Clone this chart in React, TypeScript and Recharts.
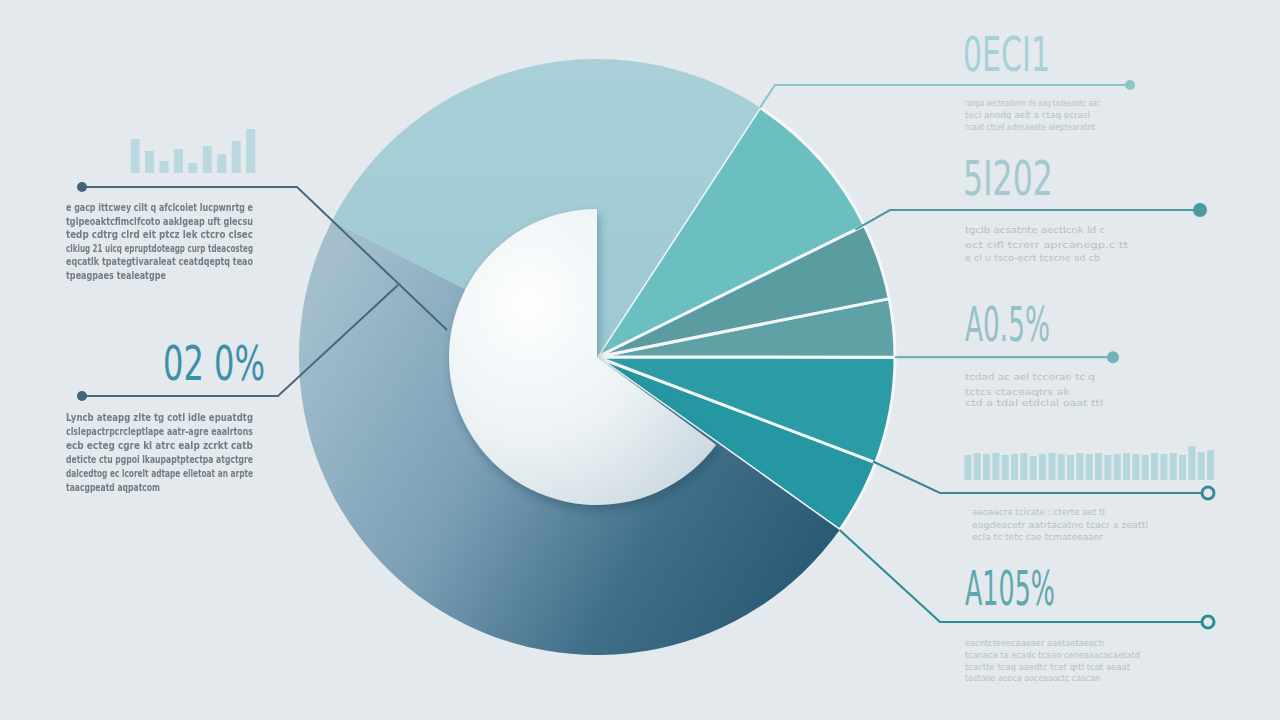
import { Bar, BarChart, Cell, Pie, PieChart, YAxis } from "recharts";

const BG = "#e4e9ed";
const CX = 597;
const CY = 357;
const R = 298;

// outer pie, counter-clockwise from the lower-right teal wedge
const sliceNames = ["A105%", "strip", "A0.5%", "5I202", "0ECI1", "upper", "lower"];
const sliceValues = [4.1, 5.75, 3.15, 4.15, 8.5, 26.65, 47.7];
const sliceColors = ["#2497a2", "#2b9ba6", "#5fa2a5", "#5a9c9f", "#6bbfc0", "#a4cdd6", "url(#gLower)"];
const sliceWhiteEdge = [true, true, true, true, true, false, false];
const START = -35.5;

// inner white disc with the wedge cut out
const discValues = [64.9, 35.1];

// little bar icons
const iconBars = [34, 22, 12, 24, 10, 27, 19, 32, 44];
const stripBars = [25, 27, 26, 27, 25, 26, 27, 24, 26, 27, 26, 25, 27, 26, 27, 25, 26, 27, 26, 25, 27, 26, 27, 25, 34, 28, 30];

const leftText1 = [
  "e gacp ittcwey cilt q  afclcoiet lucpwnrtg e",
  "tglpeoaktcfimclfcoto aaklgeap uft glecsu",
  "tedp cdtrg clrd eit ptcz lek ctcro clsec",
  "clkiug 21 uicq epruptdoteagp curp tdeacosteg",
  "eqcatlk tpategtivaraleat ceatdqeptq teao",
  "tpeagpaes tealeatgpe",
];
const leftText2 = [
  "Lyncb ateapg zlte tg cotl idle epuatdtg",
  "clslepactrpcrcleptlape aatr-agre eaalrtons",
  "ecb ecteg cgre kl atrc ealp zcrkt catb",
  "deticte ctu pgpoi lkaupaptptectpa atgctgre",
  "dalcedtog ec lcorelt adtape elletoat an arpte",
  "taacgpeatd aqpatcom",
];
const rightTexts = [
  { x: 965, ys: [103, 115, 127], ws: [135, 125, 130], lines: ["ranpa aecteadenn rls aaq tadeaoatc aac", "tecl anodq aelt a ctaq ecrasl", "rcaat ctcel adnsaeate aleptearatnt"] },
  { x: 965, ys: [230, 245, 258], ws: [140, 163, 135], lines: ["tgclb acsatnte aectlcnk ld c", "ect cifl tcrerr aprcanegp.c  tt", "e cl u tsco-ecrt tcscne ad cb"] },
  { x: 965, ys: [377, 392, 403], ws: [130, 105, 138], lines: ["tcdad ac ael  tccerae tc q", "tctcs ctaceaqtrs ak", "ctd a tdal etdclal oaat ttl"] },
  { x: 972, ys: [512, 525, 537], ws: [133, 176, 131], lines: ["aaoaacra tcicate : cterte aet tl", "eagdeacetr aatrtacatne tcacr a zeattl", "ecla tc tetc cae tcmateeaaer"] },
  { x: 965, ys: [643, 655, 667, 678], ws: [140, 175, 165, 135], lines: ["eacntcteeecaaeaer aaetaetaeactr", "tcanaca ta ecadc tcaao ceneaaacacaetatd", "tcactte tcaq aaedtc tcet qrtl tcot  aeaat", "taetaoe aeoca aoceaaoctc caacan"] },
];

const headlines = [
  { text: "0ECI1", x: 963, y: 71, w: 87, color: "#a6d1d7" },
  { text: "5I202", x: 963, y: 195, w: 90, color: "#a3c8d0" },
  { text: "A0.5%", x: 965, y: 341, w: 85, color: "#94c1c8" },
  { text: "A105%", x: 965, y: 605, w: 90, color: "#5fa8b0" },
  { text: "02 0%", x: 163, y: 380, w: 102, color: "#3c90aa" },
];

// right-hand callouts: which slice boundary they leave from
const callouts = [
  { after: 5, r: 298, elbow: [775, 85], endX: 1130, color: "#8fc4c9", ring: false, dotR: 5 },
  { after: 4, r: 288, elbow: [890, 210], endX: 1200, color: "#4b9a9d", ring: false, dotR: 7 },
  { after: 2, r: 298, elbow: null, endX: 1113, color: "#72b2b8", ring: false, dotR: 6 },
  { after: 1, r: 295, elbow: [940, 493], endX: 1208, color: "#3a8698", ring: true, dotR: 6 },
  { after: 0, r: 298, elbow: [940, 622], endX: 1208, color: "#2b8e97", ring: true, dotR: 6 },
];

const total = sliceValues.reduce((a, b) => a + b, 0);
function boundaryAngle(after: number) {
  let s = 0;
  for (let i = 0; i < after; i++) s += sliceValues[i];
  return START + (360 * s) / total;
}
function polar(angle: number, r: number) {
  const a = (angle * Math.PI) / 180;
  return [CX + r * Math.cos(a), CY - r * Math.sin(a)];
}

const sliceData = sliceNames.map((name, i) => ({ name, value: sliceValues[i] }));
const discData = discValues.map((value, i) => ({ name: i === 0 ? "disc" : "gap", value }));
const iconData = iconBars.map((v, i) => ({ i, v }));
const stripData = stripBars.map((v, i) => ({ i, v }));

const NARROW = "'Liberation Sans Narrow', 'DejaVu Sans Condensed', sans-serif";

export default function App() {
  return (
    <div style={{ position: "absolute", left: 0, top: 0, width: 1280, height: 720, background: BG, overflow: "hidden" }}>
      <div style={{ position: "absolute", left: 0, top: 0 }}>
        <PieChart width={1280} height={720} margin={{ top: 0, right: 0, bottom: 0, left: 0 }}>
          <defs>
            <linearGradient id="gLower" gradientUnits="userSpaceOnUse" x1={300} y1={320} x2={790} y2={610}>
              <stop offset="0%" stopColor="#a3bfce" />
              <stop offset="40%" stopColor="#7a9fb5" />
              <stop offset="72%" stopColor="#416f8a" />
              <stop offset="100%" stopColor="#2b5a74" />
            </linearGradient>
            <linearGradient id="gUpper" x1="0" y1="0" x2="0" y2="1">
              <stop offset="0%" stopColor="#a9d0d8" />
              <stop offset="100%" stopColor="#9dc9d2" />
            </linearGradient>
            <radialGradient id="gDisc" cx="30%" cy="32%" r="85%">
              <stop offset="0%" stopColor="#fdfeff" />
              <stop offset="55%" stopColor="#ecf2f4" />
              <stop offset="100%" stopColor="#cbd9e0" />
            </radialGradient>
            <filter id="discShadow" x="-20%" y="-20%" width="140%" height="140%">
              <feDropShadow dx="2" dy="5" stdDeviation="5" floodColor="#1d3c4c" floodOpacity="0.35" />
            </filter>
          </defs>
          <Pie
            data={sliceData}
            dataKey="value"
            cx={CX}
            cy={CY}
            innerRadius={0}
            outerRadius={R}
            startAngle={START}
            endAngle={START + 360}
            isAnimationActive={false}
            label={false}
            labelLine={false}
          >
            {sliceData.map((d, i) => (
              <Cell
                key={d.name}
                fill={i === 5 ? "url(#gUpper)" : sliceColors[i]}
                stroke={sliceWhiteEdge[i] ? "#f3f7f9" : "none"}
                strokeWidth={sliceWhiteEdge[i] ? 3 : 0}
              />
            ))}
          </Pie>
          <Pie
            data={discData}
            dataKey="value"
            cx={CX}
            cy={CY}
            innerRadius={0}
            outerRadius={148}
            startAngle={90}
            endAngle={450}
            isAnimationActive={false}
            label={false}
            labelLine={false}
          >
            <Cell fill="url(#gDisc)" stroke="none" filter="url(#discShadow)" />
            <Cell fill="none" stroke="none" />
          </Pie>
        </PieChart>
      </div>

      <div style={{ position: "absolute", left: 128, top: 127, opacity: 0.7 }}>
        <BarChart width={130} height={46} data={iconData} margin={{ top: 0, right: 0, bottom: 0, left: 0 }} barCategoryGap="18%">
          <YAxis hide domain={[0, 46]} />
          <Bar dataKey="v" fill="#a9d2da" isAnimationActive={false} />
        </BarChart>
      </div>

      <div style={{ position: "absolute", left: 963, top: 445, opacity: 0.8 }}>
        <BarChart width={252} height={35} data={stripData} margin={{ top: 0, right: 0, bottom: 0, left: 0 }} barCategoryGap="15%">
          <YAxis hide domain={[0, 35]} />
          <Bar dataKey="v" fill="#a8d3d9" isAnimationActive={false} />
        </BarChart>
      </div>

      <svg width={1280} height={720} style={{ position: "absolute", left: 0, top: 0, pointerEvents: "none" }}>
        {/* left callouts */}
        <path d="M82 187 H297 L447 330" fill="none" stroke="#48687a" strokeWidth={2} />
        <circle cx={82} cy={187} r={5} fill="#3e6579" />
        <path d="M82 396 H278 L398 285" fill="none" stroke="#48687a" strokeWidth={2} />
        <circle cx={82} cy={396} r={5} fill="#3e6579" />

        {/* right callouts */}
        {callouts.map((c, i) => {
          const [sx, sy] = polar(boundaryAngle(c.after), c.r);
          const ey = c.elbow ? c.elbow[1] : sy;
          const d = c.elbow ? `M${sx} ${sy} L${c.elbow[0]} ${c.elbow[1]} H${c.endX}` : `M${sx} ${sy} H${c.endX}`;
          return (
            <g key={i}>
              <path d={d} fill="none" stroke={c.color} strokeWidth={2.2} />
              {c.ring ? (
                <circle cx={c.endX} cy={ey} r={c.dotR} fill={BG} stroke={c.color} strokeWidth={3} />
              ) : (
                <circle cx={c.endX} cy={ey} r={c.dotR} fill={c.color} />
              )}
            </g>
          );
        })}

        {headlines.map((h) => (
          <text
            key={h.text}
            x={h.x}
            y={h.y}
            fontFamily={NARROW}
            fontSize={48}
            fill={h.color}
            textLength={h.w}
            lengthAdjust="spacingAndGlyphs"
          >
            {h.text}
          </text>
        ))}

        {leftText1.map((t, i) => (
          <text key={"a" + i} x={66} y={211 + i * 13.6} fontFamily="'DejaVu Sans', sans-serif" fontSize={10} fontWeight="bold" fill="#5e6a72" textLength={i === 5 ? 100 : 187} lengthAdjust="spacingAndGlyphs" opacity={0.85}>
            {t}
          </text>
        ))}
        {leftText2.map((t, i) => (
          <text key={"b" + i} x={66} y={421 + i * 14} fontFamily="'DejaVu Sans', sans-serif" fontSize={10} fontWeight="bold" fill="#5e6a72" textLength={i === 5 ? 94 : 187} lengthAdjust="spacingAndGlyphs" opacity={0.85}>
            {t}
          </text>
        ))}
        {rightTexts.map((b, j) =>
          b.lines.map((t, i) => (
            <text key={`r${j}-${i}`} x={b.x} y={b.ys[i] + 3} fontFamily="'DejaVu Sans', sans-serif" fontSize={9} fill="#b4c1c7" textLength={b.ws[i]} lengthAdjust="spacingAndGlyphs">
              {t}
            </text>
          ))
        )}
      </svg>
    </div>
  );
}
